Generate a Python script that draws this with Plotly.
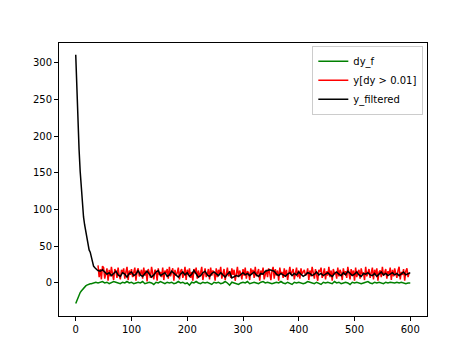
import plotly.graph_objects as go

# ---- data ----
green_x = list(range(0, 30, 2)) + list(range(32, 601, 4))
green_y = [-28, -24, -20, -16, -13, -11, -9, -7, -5, -4, -3, -2, -2, -1, -1,
           0, 1, 0, 1, 2, 0, 1, -1, 0, 2, 1, 0, -1, 1, 0, 2, 0, 1, -1, 0,
           1, 0, 2, -1, 0, 1, 0, -2, 1, 0, 2, 0, -1, 1, 0, 1, -1, 0, 2, 0,
           1, -1, 0, -3, 1, 0, 2, 0, -1, 1, 0, 1, 0, -2, 1, 0, 1, -1, 0, 2,
           0, -3, 1, 0, -1, -2, 0, 1, 0, 2, -1, 0, 1, 0, -1, 1, 2, 0, 1, 0,
           -1, 0, 1, 0, 2, 0, -1, 1, 0, -2, 1, 0, 1, 0, -1, 0, 2, 1, 0, -1,
           1, 0, -2, 1, 0, 1, 0, -1, 2, 0, 1, -1, 0, 1, 0, -2, 1, 0, 1, 0,
           -1, 0, 1, 2, 0, -1, 1, 0, 1, 0, -1, 1, 0, 1, 0, 0, 1, 0, 1, 0, -1, 0, 0]

red_x = list(range(40, 600, 2))
red_y = [24, 8, 19, 5, 23, 21, 6, 14, 20, 3, 18, 9, 22, 12, 4, 19, 16, 7, 21, 10,
         5, 18, 13, 20, 6, 15, 22, 4, 17, 11, 19, 8, 14, 21, 3, 16, 20, 9, 13, 18,
         6, 21, 10, 17, 2, 19, 14, 7, 22, 12, 5, 18, 16, 3, 20, 11, 15, 8, 21, 4,
         17, 13, 19, 6, 22, 9, 15, 20, 3, 18, 10, 14, 21, 5, 16, 19, 7, 12, 22, 4,
         18, 11, 20, 7, 15, 3, 19, 13, 21, 6, 17, 9, 14, 22, 4, 16, 20, 8, 12, 19,
         5, 21, 10, 17, 14, 3, 20, 8, 18, 12, 22, 6, 15, 19, 4, 13, 21, 9, 16, 7,
         20, 11, 18, 3, 15, 22, 8, 17, 13, 5, 19, 10, 21, 6, 16, 14, 4, 20, 12, 18,
         7, 22, 9, 15, 19, 3, 17, 11, 21, 5, 14, 18, 8, 20, 13, 4, 16, 22, 6, 19,
         10, 17, 3, 21, 12, 15, 7, 20, 9, 18, 4, 16, 22, 11, 14, 19, 5, 13, 21, 8,
         17, 6, 20, 12, 15, 18, 10,
         12, 20, 4, 17, 9, 22, 14, 6, 19, 11, 3, 18, 15, 21, 7, 13, 20, 5, 16, 10,
         22, 8, 17, 3, 19, 12, 15, 6, 21, 9, 18, 14, 4, 20, 11, 16, 7, 22, 13, 5,
         19, 10, 17, 3, 21, 8, 15, 18, 6, 20, 12, 14, 4, 22, 9, 16, 19, 7, 13, 21,
         5, 18, 11, 20, 3, 15, 17, 8, 22, 10, 14, 19, 6, 16, 12, 21, 4, 18, 9, 20,
         13, 7, 17, 22, 5, 15, 11, 19, 3, 16, 20, 8, 14]

black_x = list(range(0, 40, 2)) + list(range(40, 601, 4))
black_y = [311, 262, 218, 182, 152, 127, 106, 90, 79, 70, 60, 49, 45, 42, 34, 27, 23, 21, 19, 18,
           17, 16, 18, 15, 12, 14, 10, 13, 16, 11, 9, 14, 12, 8, 13, 15, 10, 12, 17, 11,
           9, 13, 16, 12, 8, 11, 15, 17, 10, 12, 14, 9, 11, 16, 13, 10, 8, 12, 15, 11,
           14, 9, 12, 17, 13, 8, 10, 14, 16, 11, 9, 13, 15, 12, 10, 14, 11, 8, 12, 15,
           7, 8, 10, 9, 12, 14, 11, 13, 10, 12, 15, 11, 9, 13, 12, 16, 17, 18, 17, 16,
           12, 10, 13, 11, 9, 12, 14, 10, 13, 11, 15, 12, 9, 11, 14, 13, 10, 12, 15, 11,
           13, 10, 12, 14, 11, 9, 13, 15, 12, 10, 14, 11, 16, 13, 10, 12, 15, 11, 9, 13,
           12, 14, 11, 10, 13, 9, 12, 15, 11, 13, 10, 12, 14, 11, 13, 10, 12, 15, 11, 13, 14]

x_ticks = [0, 100, 200, 300, 400, 500, 600]
y_ticks = [0, 50, 100, 150, 200, 250, 300]

fig = go.Figure()
fig.add_trace(go.Scatter(x=green_x, y=green_y, mode="lines", name="dy_f",
                         line=dict(color="#008000", width=1.5)))
fig.add_trace(go.Scatter(x=red_x, y=red_y, mode="lines", name="y[dy > 0.01]",
                         line=dict(color="#ff0000", width=1.5)))
fig.add_trace(go.Scatter(x=black_x, y=black_y, mode="lines", name="y_filtered",
                         line=dict(color="#000000", width=1.5)))

axis_common = dict(showgrid=False, zeroline=False, showline=True, mirror=True,
                   linecolor="#000000", linewidth=1, ticks="outside", ticklen=4,
                   tickcolor="#000000", tickfont=dict(size=10, color="#000000"))

fig.update_layout(
    width=474, height=355,
    margin=dict(l=59, r=47, t=43, b=39),
    paper_bgcolor="white", plot_bgcolor="white",
    font=dict(family="DejaVu Sans", size=10, color="#000000"),
    xaxis=dict(range=[-30, 630], tickvals=x_ticks, **axis_common),
    yaxis=dict(range=[-45, 327], tickvals=y_ticks, **axis_common),
    legend=dict(x=0.99, y=0.99, xanchor="right", yanchor="top",
                bgcolor="rgba(255,255,255,0.8)", bordercolor="#cccccc", borderwidth=1,
                font=dict(size=10), tracegroupgap=0, itemwidth=30),
    showlegend=True,
)

fig.write_html("out.html")
